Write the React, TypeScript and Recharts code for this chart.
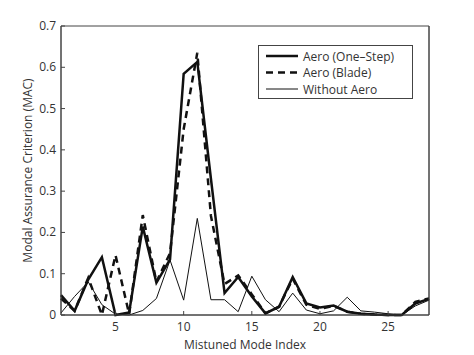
import React from 'react';
import { LineChart, Line, XAxis, YAxis, Legend, ReferenceArea } from 'recharts';

const modes = [1, 2, 3, 4, 5, 6, 7, 8, 9, 10, 11, 12, 13, 14, 15, 16, 17, 18, 19, 20, 21, 22, 23, 24, 25, 26, 27, 28];
const aeroOneStep = [0.048, 0.01, 0.086, 0.14, 0.0, 0.006, 0.214, 0.078, 0.135, 0.584, 0.613, 0.33, 0.053, 0.092, 0.045, 0.004, 0.02, 0.092, 0.028, 0.018, 0.023, 0.008, 0.003, 0.001, 0.0, 0.0, 0.028, 0.039];
const aeroBlade = [0.04, 0.01, 0.09, 0.0, 0.145, 0.002, 0.242, 0.08, 0.15, 0.45, 0.635, 0.24, 0.075, 0.096, 0.05, 0.004, 0.02, 0.088, 0.025, 0.015, 0.022, 0.008, 0.003, 0.001, 0.0, 0.0, 0.032, 0.04];
const withoutAero = [0.005, 0.045, 0.08, 0.025, 0.002, 0.0, 0.011, 0.04, 0.133, 0.036, 0.234, 0.037, 0.037, 0.008, 0.094, 0.037, 0.008, 0.053, 0.012, 0.003, 0.01, 0.043, 0.01, 0.007, 0.003, 0.0, 0.022, 0.036];
const xTicks = [5, 10, 15, 20, 25];
const yTicks = [0, 0.1, 0.2, 0.3, 0.4, 0.5, 0.6, 0.7];

const data = modes.map((m, i) => ({
  mode: m,
  oneStep: aeroOneStep[i],
  blade: aeroBlade[i],
  without: withoutAero[i],
}));

const FONT = '"Open Sans", sans-serif';
const TEXT = '#333';
const AXIS = '#444';
const TICK_LEN = 4;

const BottomTick = (props: any) => {
  const { x, y, payload } = props;
  return (
    <g>
      <line x1={x} y1={y} x2={x} y2={y - TICK_LEN} stroke={AXIS} />
      <text x={x} y={y + 16} textAnchor="middle" fontSize={12} fontFamily={FONT} fill={TEXT}>
        {payload.value}
      </text>
    </g>
  );
};

const TopTick = (props: any) => {
  const { x, y } = props;
  return <line x1={x} y1={y} x2={x} y2={y + TICK_LEN} stroke={AXIS} />;
};

const LeftTick = (props: any) => {
  const { x, y, payload } = props;
  return (
    <g>
      <line x1={x} y1={y} x2={x + TICK_LEN} y2={y} stroke={AXIS} />
      <text x={x - 5} y={y + 4} textAnchor="end" fontSize={12} fontFamily={FONT} fill={TEXT}>
        {payload.value === 0 ? '0' : payload.value.toFixed(1)}
      </text>
    </g>
  );
};

const RightTick = (props: any) => {
  const { x, y } = props;
  return <line x1={x} y1={y} x2={x - TICK_LEN} y2={y} stroke={AXIS} />;
};

const legendRows = [
  { label: 'Aero (One\u2013Step)', width: 2.5, dash: undefined },
  { label: 'Aero (Blade)', width: 2.5, dash: '7 5' },
  { label: 'Without Aero', width: 1, dash: undefined },
];

const LegendBox = () => (
  <svg width={156} height={55}>
    <rect x={0.5} y={0.5} width={154} height={53} fill="#fff" stroke={AXIS} />
    {legendRows.map((r, i) => (
      <g key={r.label}>
        <line x1={8} x2={40} y1={11 + i * 16.5} y2={11 + i * 16.5} stroke="#111" strokeWidth={r.width} strokeDasharray={r.dash} />
        <text x={45} y={15.5 + i * 16.5} fontSize={12} fontFamily={FONT} fill={TEXT}>
          {r.label}
        </text>
      </g>
    ))}
  </svg>
);

export default function App() {
  return (
    <div style={{ position: 'absolute', left: 0, top: 0, width: 474, height: 355, background: '#fff' }}>
      <LineChart width={474} height={355} data={data} margin={{ top: 26, right: 0, bottom: 0, left: 0 }}>
        <XAxis
          dataKey="mode"
          type="number"
          domain={[1, 28]}
          ticks={xTicks}
          height={40}
          tickSize={0}
          tickMargin={0}
          tickLine={false}
          stroke={AXIS}
          tick={<BottomTick />}
          label={{ value: 'Mistuned Mode Index', position: 'insideBottom', offset: 6, fontSize: 12, fontFamily: FONT, fill: TEXT }}
        />
        <XAxis
          xAxisId="top"
          dataKey="mode"
          type="number"
          domain={[1, 28]}
          ticks={xTicks}
          orientation="top"
          height={0}
          tickSize={0}
          tickMargin={0}
          tickLine={false}
          stroke={AXIS}
          tick={<TopTick />}
        />
        <YAxis
          type="number"
          domain={[0, 0.7]}
          ticks={yTicks}
          width={61}
          tickSize={0}
          tickMargin={0}
          tickLine={false}
          stroke={AXIS}
          tick={<LeftTick />}
          label={{ value: 'Modal Assurance Criterion (MAC)', angle: -90, position: 'center', dx: -3, fontSize: 12, fontFamily: FONT, fill: TEXT }}
        />
        <YAxis
          yAxisId="right"
          orientation="right"
          type="number"
          domain={[0, 0.7]}
          ticks={yTicks}
          width={45}
          tickSize={0}
          tickMargin={0}
          tickLine={false}
          stroke={AXIS}
          tick={<RightTick />}
        />
        <ReferenceArea x1={1} x2={28} y1={0} y2={0.7} fill="none" stroke={AXIS} strokeWidth={1} />
        <Legend
          layout="vertical"
          align="center"
          verticalAlign="middle"
          content={<LegendBox />}
          wrapperStyle={{ position: 'absolute', left: 258, top: 45, width: 156, height: 55 }}
        />
        <Line type="linear" dataKey="oneStep" name="Aero (One-Step)" stroke="#111" strokeWidth={2.5} dot={false} isAnimationActive={false} />
        <Line type="linear" dataKey="blade" name="Aero (Blade)" stroke="#111" strokeWidth={2.5} strokeDasharray="7 5" dot={false} isAnimationActive={false} />
        <Line type="linear" dataKey="without" name="Without Aero" stroke="#111" strokeWidth={1} dot={false} isAnimationActive={false} />
      </LineChart>
    </div>
  );
}
